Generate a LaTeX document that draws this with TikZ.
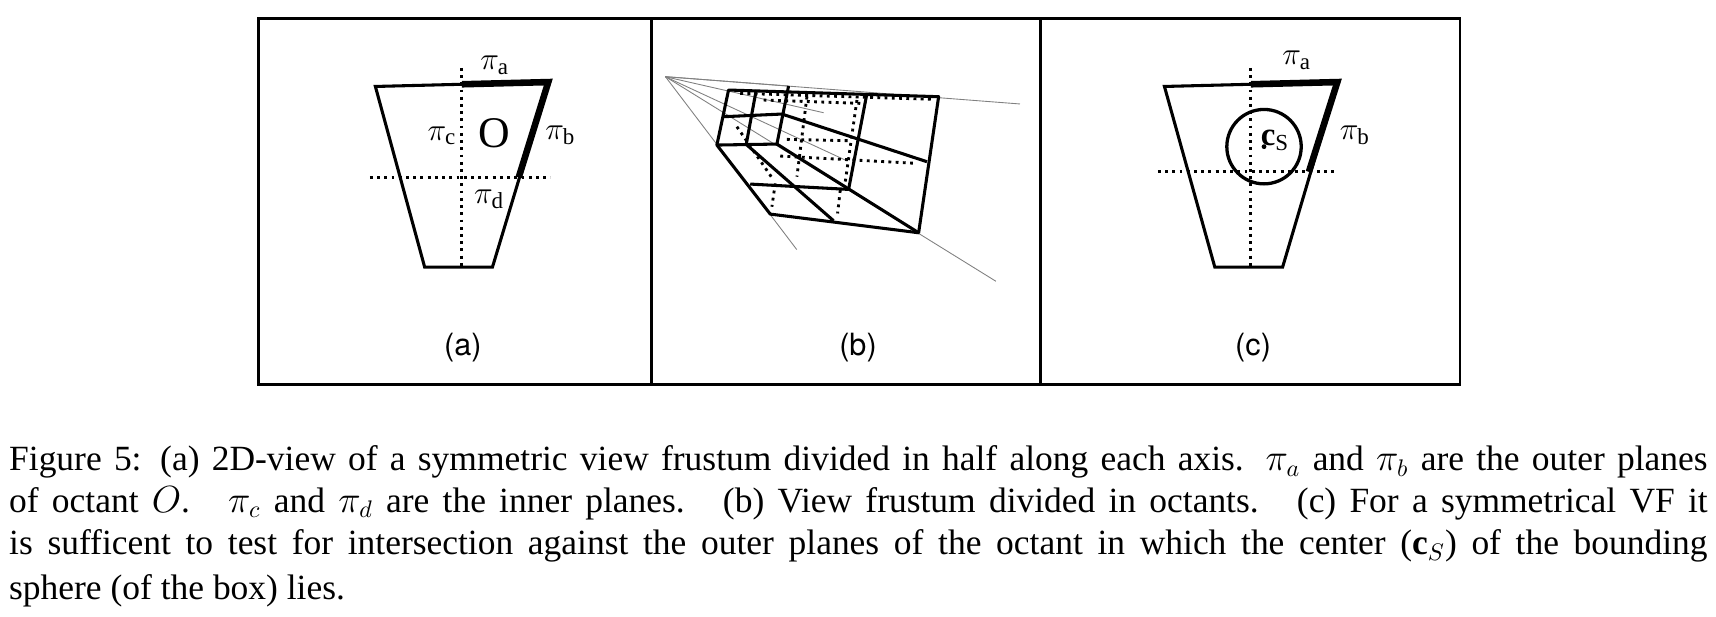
\documentclass[tikz,border=0pt]{standalone}
\usepackage{fontspec}
\setmainfont{Liberation Serif}
\newfontfamily\panelfont{TeX Gyre Heros}
\usepackage{amsmath}
\usetikzlibrary{positioning}

\begin{document}
\begin{tikzpicture}[x=0.5pt, y=-0.5pt,
                    edge/.style={line width=1.4pt},
                    outer/.style={line width=3pt},
                    hidden/.style={dotted, line width=1.3pt},
                    ray/.style={gray, line width=0.4pt},
                    planelabel/.style={font=\fontsize{15}{17}\selectfont},
                    tag/.style={font=\panelfont\fontsize{14}{16}\selectfont},
                    capline/.style={anchor=base west, inner sep=0pt, font=\fontsize{16.2}{17}\selectfont}
                    ]
    \useasboundingbox (0,0) rectangle (1568,563);

    % PANELS %
    \draw[line width=1.3pt] (236,17) rectangle (1334,351);
    \draw[line width=1.3pt] (595,17) -- (595,351);
    \draw[line width=1.3pt] (951,17) -- (951,351);

    % (a) %
    \coordinate (tl) at (343,79);
    \coordinate (tr) at (501,75);
    \coordinate (br) at (450,244);
    \coordinate (bl) at (388,244);
    \draw[edge] (tl) -- (tr) -- (br) -- (bl) -- cycle;
    \coordinate (tm) at (422,77);
    \coordinate (rm) at (474,162);
    \draw[outer, line join=miter] (tm) -- (tr) -- (rm);
    \draw[hidden] (422,62) -- (422,244);
    \draw[hidden] (338,162) -- (503,162);
    \node[planelabel] (pia) at (452,60) {$\pi_{\mathrm{a}}$};
    \node[planelabel] (pic) at (404,124) {$\pi_{\mathrm{c}}$};
    \node[font=\fontsize{20}{22}\selectfont] (oct) at (452,122) {O};
    \node[planelabel] (pib) at (512,124) {$\pi_{\mathrm{b}}$};
    \node[planelabel] (pid) at (447,182) {$\pi_{\mathrm{d}}$};
    \node[tag] (taga) at (423,318) {(a)};

    % (b) %
    \coordinate (ap) at (608,70);
    \foreach \ex/\ey in {932/95, 728/228, 910/257}
        \draw[ray] (ap) -- (\ex,\ey);
    \begin{scope}[shift={(548.4,45.7)}, scale=0.3047]
        \foreach \ex/\ey in {670/188, 735/330, 565/108}
            \draw[ray] (195,80) -- (\ex,\ey);
        \draw[hidden] (420,130) -- (1000,148);
        \draw[hidden] (490,150) -- (780,160);
        \draw[hidden] (770,150) -- (735,395);
        \draw[hidden] (560,268) -- (750,272);
        \draw[hidden] (540,318) -- (950,340);
        \draw[hidden] (620,140) -- (590,380);
        \draw[hidden] (410,230) -- (520,390);
        \draw[hidden] (525,400) -- (515,470);
        \draw[hidden] (720,420) -- (712,490);
        \draw[edge, line join=round] (385,120) -- (1015,140) -- (955,548) -- (510,492) -- (350,285) -- cycle;
        \draw[edge] (468,120) -- (438,283);
        \draw[edge] (565,108) -- (530,282);
        \draw[edge] (370,200) -- (545,192) -- (980,335);
        \draw[edge] (350,285) -- (530,282);
        \draw[edge] (438,283) -- (700,512);
        \draw[edge] (530,282) -- (955,548);
        \draw[edge] (450,402) -- (745,418);
        \draw[edge] (800,130) -- (745,418);
    \end{scope}
    \node[tag] (tagb) at (784,318) {(b)};

    % (c) %
    \coordinate (ctl) at (1064,79);
    \coordinate (ctr) at (1222,75);
    \coordinate (cbr) at (1172,244);
    \coordinate (cbl) at (1110,244);
    \draw[edge] (ctl) -- (ctr) -- (cbr) -- (cbl) -- cycle;
    \coordinate (ctm) at (1143,77);
    \coordinate (crm) at (1196,157);
    \draw[outer, line join=miter] (ctm) -- (ctr) -- (crm);
    \draw[hidden] (1143,62) -- (1143,244);
    \draw[hidden] (1058,157) -- (1222,157);
    \node[draw, circle, line width=1.5pt, minimum size=34pt, inner sep=0pt] (sph) at (1155,134) {};
    \fill (1155,134) circle (2.2);
    \node[planelabel] (cs) at (1165,128) {$\mathbf{c}_{\mathrm{S}}$};
    \node[planelabel] (cpia) at (1185,55) {$\pi_{\mathrm{a}}$};
    \node[planelabel] (cpib) at (1238,124) {$\pi_{\mathrm{b}}$};
    \node[tag] (tagc) at (1145,318) {(c)};

    % CAPTION %
    \node[capline] (cap1) at (8,430) {\hbox to 776pt{Figure 5: (a) 2D-view of a symmetric view frustum divided in half along each axis. $\pi_a$ and $\pi_b$ are the outer planes}};
    \node[capline] (cap2) at (8,468) {\hbox to 776pt{of octant $O$. \ $\pi_c$ and $\pi_d$ are the inner planes. \ (b) View frustum divided in octants. \ (c) For a symmetrical VF it}};
    \node[capline] (cap3) at (8,507) {\hbox to 776pt{is sufficent to test for intersection against the outer planes of the octant in which the center ($\mathbf{c}_S$) of the bounding}};
    \node[capline] (cap4) at (8,548) {sphere (of the box) lies.};
\end{tikzpicture}
\end{document}
